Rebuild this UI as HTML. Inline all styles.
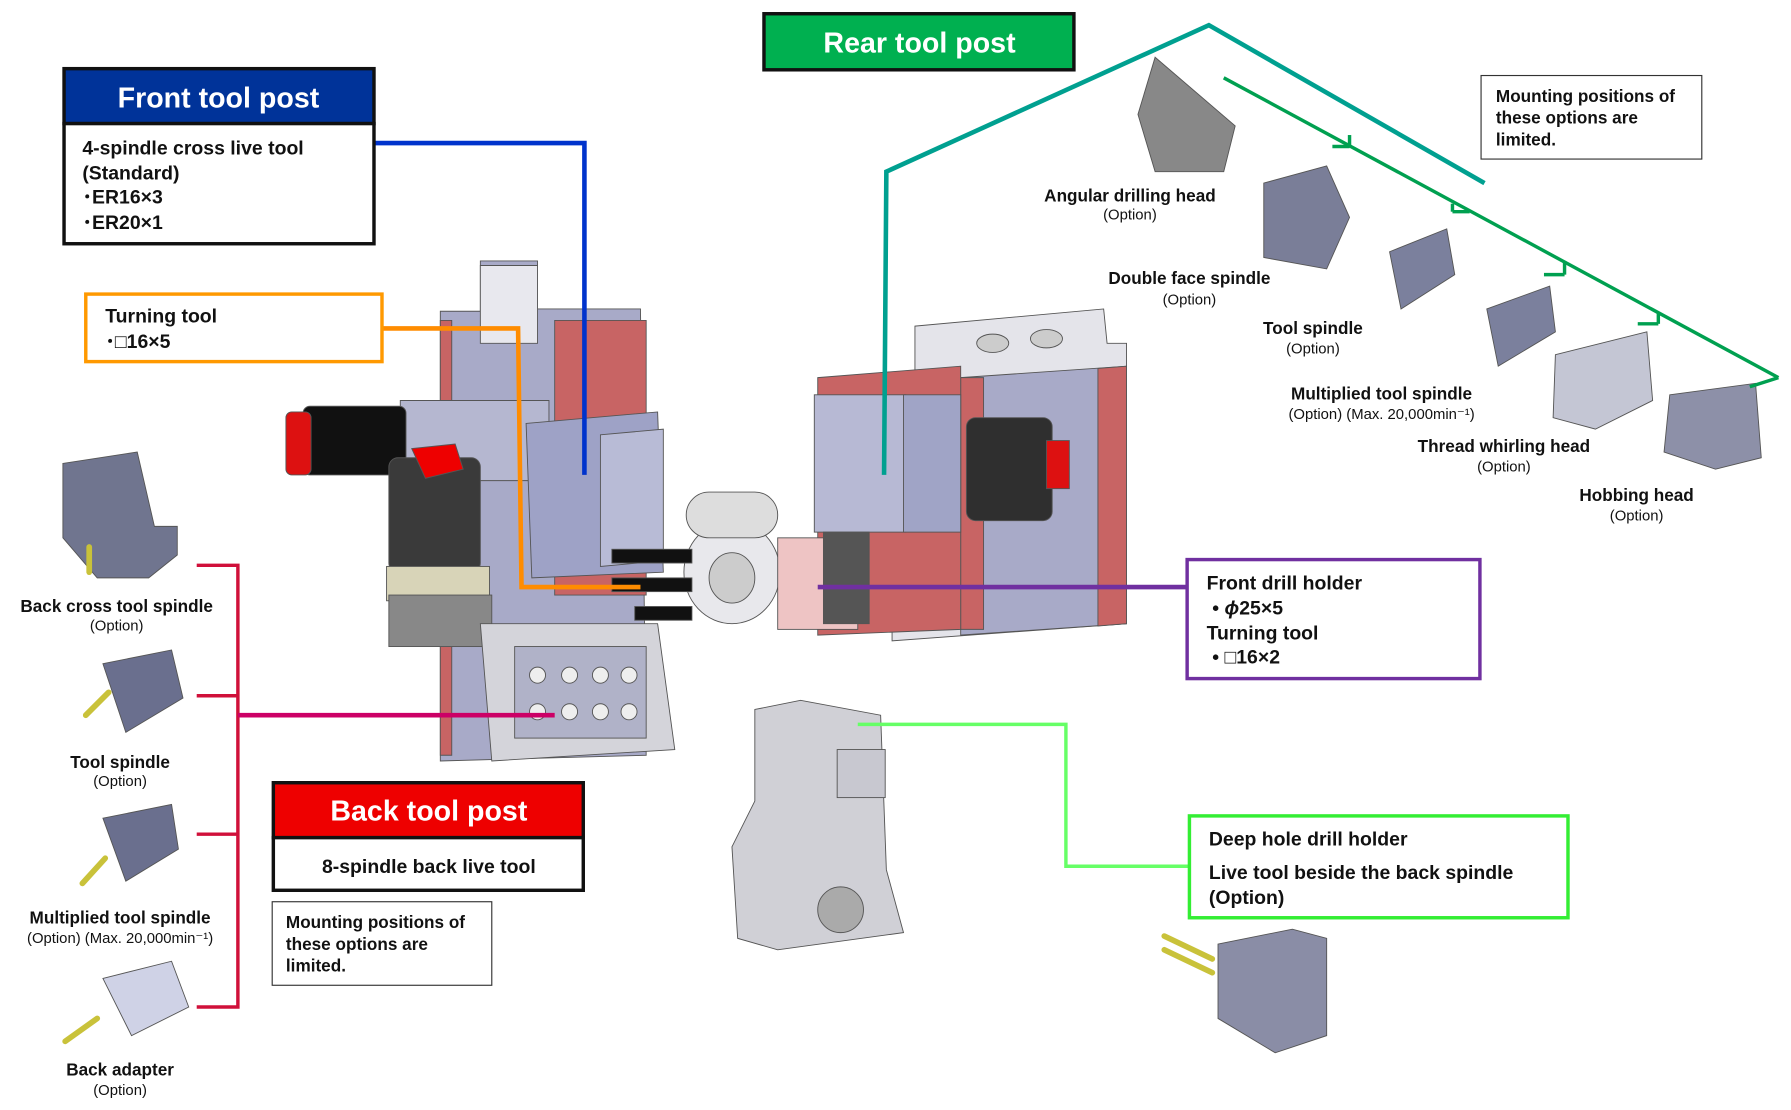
<!DOCTYPE html>
<html><head><meta charset="utf-8"><style>
html,body{margin:0;padding:0;background:#fff;}
svg{display:block;}
text{font-family:"Liberation Sans",sans-serif;font-weight:bold;fill:#111;}
.s{font-size:13px;font-weight:normal;}
</style></head><body>
<svg width="1791" height="1110" viewBox="0 0 1566 970" preserveAspectRatio="none" xmlns="http://www.w3.org/2000/svg">
<!-- ===== central machine (approx) ===== -->
<g stroke="#555" stroke-width="0.8">
<!-- left post -->
<polygon points="385,272 420,272 420,228 470,228 470,270 560,270 565,660 385,665" fill="#a8aac8"/>
<polygon points="485,280 565,280 565,520 485,520" fill="#c86464"/>
<polygon points="385,280 395,280 395,660 385,660" fill="#c86464"/>
<polygon points="420,232 470,232 470,300 420,300" fill="#e8e8ee"/>
<polygon points="350,350 480,350 480,420 350,420" fill="#b5b7d0"/>
<polygon points="460,370 575,360 580,500 465,505" fill="#9ea2c6"/>
<polygon points="525,380 580,375 580,490 525,495" fill="#b8bbd6"/>
<!-- motor -->
<rect x="265" y="355" width="90" height="60" rx="6" fill="#111"/>
<rect x="250" y="360" width="22" height="55" rx="5" fill="#d11"/>
<rect x="340" y="400" width="80" height="100" rx="8" fill="#3a3a3a"/>
<polygon points="360,392 398,388 405,410 372,418" fill="#e00"/>
<rect x="338" y="495" width="90" height="30" fill="#d8d4b8"/>
<rect x="340" y="520" width="90" height="45" fill="#888"/>
<!-- turret -->
<ellipse cx="640" cy="500" rx="42" ry="45" fill="#e8e8ec"/>
<ellipse cx="640" cy="505" rx="20" ry="22" fill="#ccc"/>
<rect x="600" y="430" width="80" height="40" rx="20" fill="#ddd"/>
<!-- tool holders -->
<rect x="535" y="480" width="70" height="12" fill="#111"/>
<rect x="535" y="505" width="70" height="12" fill="#111"/>
<rect x="555" y="530" width="50" height="12" fill="#111"/>
<!-- back post -->
<polygon points="420,545 575,545 590,655 430,665" fill="#d4d4da"/>
<rect x="450" y="565" width="115" height="80" fill="#b0b2c8"/>
<g fill="#eee"><circle cx="470" cy="590" r="7"/><circle cx="498" cy="590" r="7"/><circle cx="525" cy="590" r="7"/><circle cx="550" cy="590" r="7"/><circle cx="470" cy="622" r="7"/><circle cx="498" cy="622" r="7"/><circle cx="525" cy="622" r="7"/><circle cx="550" cy="622" r="7"/></g>
<!-- right post -->
<polygon points="800,285 965,270 968,300 985,300 985,545 780,560 780,330 800,330" fill="#e4e4ea"/>
<polygon points="840,330 985,320 985,545 840,555" fill="#a8aac8"/>
<polygon points="840,330 860,330 860,550 840,550" fill="#c86464"/>
<polygon points="960,322 985,320 985,545 960,547" fill="#c86464"/>
<polygon points="715,330 840,320 840,550 715,555" fill="#c86464"/>
<rect x="712" y="345" width="80" height="120" fill="#b7b9d4"/>
<rect x="790" y="345" width="50" height="120" fill="#a0a4c6"/>
<rect x="845" y="365" width="75" height="90" rx="8" fill="#2f2f2f"/>
<rect x="915" y="385" width="20" height="42" fill="#d11"/>
<rect x="680" y="470" width="70" height="80" fill="#eec4c4"/>
<rect x="720" y="465" width="40" height="80" fill="#555"/>
<ellipse cx="868" cy="300" rx="14" ry="8" fill="#ccc"/><ellipse cx="915" cy="296" rx="14" ry="8" fill="#ccc"/>
<!-- back spindle unit -->
<polygon points="660,620 700,612 770,625 775,760 790,815 680,830 645,820 640,740 660,700" fill="#d0d0d6"/>
<rect x="732" y="655" width="42" height="42" fill="#c8c8d0"/>
<circle cx="735" cy="795" r="20" fill="#aaa"/>
<!-- right top options -->
<polygon points="1010,50 1080,110 1070,150 1010,150 995,100" fill="#888"/>
<polygon points="1105,160 1160,145 1180,190 1160,235 1105,225" fill="#7a7e98"/>
<polygon points="1215,220 1265,200 1272,240 1225,270" fill="#7b809d"/>
<polygon points="1300,270 1355,250 1360,290 1310,320" fill="#7b809d"/>
<polygon points="1360,310 1440,290 1445,350 1395,375 1358,365" fill="#c4c6d4"/>
<polygon points="1460,345 1535,335 1540,400 1500,410 1455,395" fill="#8d90a8"/>
<!-- left options -->
<polygon points="55,405 120,395 135,460 155,460 155,485 130,505 85,505 55,470" fill="#70758f"/>
<polygon points="90,580 150,568 160,610 110,640" fill="#6a6f8e"/>
<polygon points="90,715 150,703 156,742 110,770" fill="#6a6f8e"/>
<polygon points="90,855 150,840 165,880 115,905" fill="#cfd2e6"/>
<polygon points="1065,825 1130,812 1160,820 1160,905 1115,920 1065,890" fill="#8a8da6"/>
</g>
<g stroke="#c9c23a" stroke-width="5" stroke-linecap="round">
<line x1="78" y1="478" x2="78" y2="500"/><line x1="75" y1="625" x2="95" y2="605"/><line x1="72" y1="772" x2="92" y2="750"/><line x1="57" y1="910" x2="85" y2="890"/>
<line x1="1018" y1="818" x2="1060" y2="838"/><line x1="1018" y1="830" x2="1060" y2="850"/>
</g>

<!-- ===== connectors ===== -->
<g fill="none" stroke-width="4">
<polyline points="327,125 511,125 511,415" stroke="#0033cc"/>
<polyline points="334,287 453,287 456,513 560,513" stroke="#ff8c00"/>
<polyline points="773,415 775,150 1057,22 1298,160" stroke="#00a090"/>
<polyline points="715,513 1038,513" stroke="#7030a0"/>
<polyline points="750,633 932,633 932,757 1040,757" stroke="#66ff66" stroke-width="3"/>
<polyline points="172,494 208,494 208,880 172,880" stroke="#d0103a" stroke-width="3"/>
<line x1="172" y1="608" x2="208" y2="608" stroke="#d0103a" stroke-width="3"/>
<line x1="172" y1="729" x2="208" y2="729" stroke="#d0103a" stroke-width="3"/>
<line x1="208" y1="625" x2="485" y2="625" stroke="#cc0066"/>
</g>
<g fill="none" stroke="#00a050" stroke-width="3">
<line x1="1070" y1="68" x2="1555" y2="330"/>
<line x1="1165" y1="128" x2="1180" y2="128"/><line x1="1180" y1="128" x2="1180" y2="118"/>
<line x1="1270" y1="185" x2="1285" y2="185"/><line x1="1270" y1="185" x2="1270" y2="178"/>
<line x1="1350" y1="240" x2="1368" y2="240"/><line x1="1368" y1="240" x2="1368" y2="228"/>
<line x1="1432" y1="283" x2="1450" y2="283"/><line x1="1450" y1="283" x2="1450" y2="273"/>
<line x1="1530" y1="338" x2="1555" y2="330"/>
</g>

<!-- ===== boxes ===== -->
<rect x="56" y="60" width="271" height="48" fill="#003399" stroke="#111" stroke-width="3"/>
<text x="191" y="94" text-anchor="middle" font-size="25" style="fill:#fff">Front tool post</text>
<rect x="56" y="108" width="271" height="105" fill="#fff" stroke="#111" stroke-width="3"/>
<text x="72" y="135" font-size="17">4-spindle cross live tool</text>
<text x="72" y="157" font-size="17">(Standard)</text>
<text x="72" y="178" font-size="17">･ER16×3</text>
<text x="72" y="200" font-size="17">･ER20×1</text>

<rect x="75" y="257" width="259" height="59" fill="#fff" stroke="#ff9900" stroke-width="3"/>
<text x="92" y="282" font-size="17">Turning tool</text>
<text x="92" y="304" font-size="17">･□16×5</text>

<rect x="668" y="12" width="271" height="49" fill="#00b050" stroke="#111" stroke-width="3"/>
<text x="804" y="46" text-anchor="middle" font-size="25" style="fill:#fff">Rear tool post</text>

<rect x="1295" y="66" width="193" height="73" fill="#fff" stroke="#333" stroke-width="1"/>
<text x="1308" y="89" font-size="15">Mounting positions of</text>
<text x="1308" y="108" font-size="15">these options are</text>
<text x="1308" y="127" font-size="15">limited.</text>

<rect x="1038" y="489" width="256" height="104" fill="#fff" stroke="#7030a0" stroke-width="3"/>
<text x="1055" y="515" font-size="17">Front drill holder</text>
<text x="1060" y="537" font-size="17">• <tspan font-style="italic">ϕ</tspan>25×5</text>
<text x="1055" y="559" font-size="17">Turning tool</text>
<text x="1060" y="580" font-size="17">• □16×2</text>

<rect x="1040" y="713" width="331" height="89" fill="#fff" stroke="#33ee33" stroke-width="3"/>
<text x="1057" y="739" font-size="17">Deep hole drill holder</text>
<text x="1057" y="768" font-size="17">Live tool beside the back spindle</text>
<text x="1057" y="790" font-size="17">(Option)</text>

<rect x="239" y="684" width="271" height="48" fill="#ee0000" stroke="#111" stroke-width="3"/>
<text x="375" y="717" text-anchor="middle" font-size="25" style="fill:#fff">Back tool post</text>
<rect x="239" y="732" width="271" height="46" fill="#fff" stroke="#111" stroke-width="3"/>
<text x="375" y="763" text-anchor="middle" font-size="17">8-spindle back live tool</text>

<rect x="238" y="788" width="192" height="73" fill="#fff" stroke="#333" stroke-width="1"/>
<text x="250" y="811" font-size="15">Mounting positions of</text>
<text x="250" y="830" font-size="15">these options are</text>
<text x="250" y="849" font-size="15">limited.</text>

<!-- ===== labels ===== -->
<g font-size="15" text-anchor="middle">
<text x="988" y="176">Angular drilling head</text><text x="988" y="192" class="s">(Option)</text>
<text x="1040" y="248">Double face spindle</text><text x="1040" y="266" class="s">(Option)</text>
<text x="1148" y="292">Tool spindle</text><text x="1148" y="309" class="s">(Option)</text>
<text x="1208" y="349">Multiplied tool spindle</text><text x="1208" y="366" class="s">(Option) (Max. 20,000min⁻¹)</text>
<text x="1315" y="395">Thread whirling head</text><text x="1315" y="412" class="s">(Option)</text>
<text x="1431" y="438">Hobbing head</text><text x="1431" y="455" class="s">(Option)</text>
<text x="102" y="535">Back cross tool spindle</text><text x="102" y="551" class="s">(Option)</text>
<text x="105" y="671">Tool spindle</text><text x="105" y="687" class="s">(Option)</text>
<text x="105" y="807">Multiplied tool spindle</text><text x="105" y="824" class="s">(Option) (Max. 20,000min⁻¹)</text>
<text x="105" y="940">Back adapter</text><text x="105" y="957" class="s">(Option)</text>
</g>
</svg>
</body></html>
